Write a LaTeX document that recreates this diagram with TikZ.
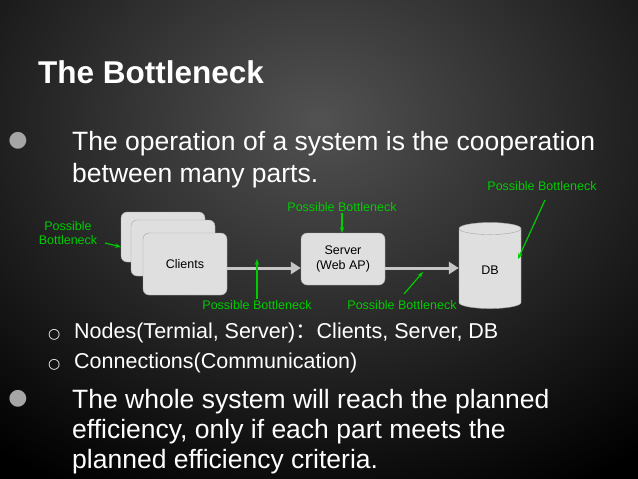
\documentclass[tikz,border=0pt]{standalone}
\usepackage{fontspec}
\setmainfont{Liberation Sans}
\newfontfamily\djv{DejaVu Sans}
\newfontfamily\cjk{Noto Sans CJK SC}
\usetikzlibrary{shapes.geometric,arrows.meta}
\begin{document}
\begin{tikzpicture}[x=1pt,y=-1pt,
  box/.style={draw=gray!70,fill=gray!25,rounded corners=6pt,minimum width=84pt,font=\fontsize{12.5}{15}\selectfont},
  gl/.style={text=green!80!black,font=\fontsize{12.5}{14}\selectfont,align=center,inner sep=1pt},
  ga/.style={draw=green!80!black,line width=1.2pt,-{Stealth[length=6pt]}},
  flow/.style={draw=gray!45,line width=3pt,-{Triangle[length=10pt,width=12pt]}},
  txt/.style={text=white,anchor=base west,inner sep=0pt,font=\fontsize{26.5}{30}\selectfont},
  sub/.style={text=white,anchor=base west,inner sep=0pt,font=\fontsize{21.5}{26}\selectfont},
  dot/.style={text=gray!70,anchor=center,inner sep=0pt,font=\djv\fontsize{22}{24}\selectfont}]
\useasboundingbox (0,0) rectangle (638,479);
\fill[black] (0,0) rectangle (638,479);
\shade[inner color=black!68,outer color=black,draw=none] (319,120) ellipse (520 and 420);
\node[text=white,anchor=base west,inner sep=0pt,font=\bfseries\fontsize{31.5}{34}\selectfont] (title) at (38,83) {The Bottleneck};
\node[dot] (b1) at (18,141) {●};
\node[txt] (t1) at (72,150) {The operation of a system is the cooperation};
\node[txt] (t2) at (72,182) {between many parts.};
\node[box,minimum height=50pt] (c3) at (163,237) {};
\node[box,minimum height=56pt] (c2) at (173,248) {};
\node[box,minimum height=62pt] (c1) at (185,264) {Clients};
\node[box,minimum height=52pt,align=center] (srv) at (343,259) {Server\\(Web AP)};
\node[cylinder,shape border rotate=90,draw=gray!70,fill=gray!25,minimum width=62pt,minimum height=86pt,aspect=0.5,font=\fontsize{12.5}{15}\selectfont] (db) at (490,270) {DB};
\draw[flow] (c1.east|-0,268) -- (srv.west|-0,268);
\draw[flow] (srv.east|-0,268) -- (db.west|-0,268);
\node[gl] (l1) at (542,186) {Possible Bottleneck};
\node[gl] (l2) at (342,207) {Possible Bottleneck};
\node[gl] (l3) at (257,305) {Possible Bottleneck};
\node[gl] (l4) at (402,305) {Possible Bottleneck};
\node[gl] (l5) at (68,233) {Possible\\Bottleneck};
\coordinate (e1) at (518,259);
\coordinate (e2) at (342,233);
\coordinate (e3) at (257,259);
\coordinate (e4) at (423,272);
\coordinate (e5) at (121,247);
\draw[ga] (545,200) -- (e1);
\draw[ga] (l2) -- (e2);
\draw[ga] (l3) -- (e3);
\draw[ga] (404,294) -- (e4);
\draw[ga] (105,243) -- (e5);
\node[sub,font=\djv\fontsize{14}{16}\selectfont] (s1) at (48,338) {○};
\node[sub] (s1t) at (74,338) {Nodes(Termial, Server){\cjk ：}Clients, Server, DB};
\node[sub,font=\djv\fontsize{14}{16}\selectfont] (s2) at (48,368) {○};
\node[sub] (s2t) at (74,368) {Connections(Communication)};
\node[dot] (b2) at (18,399) {●};
\node[txt] (u1) at (72,408) {The whole system will reach the planned};
\node[txt] (u2) at (72,438) {efficiency, only if each part meets the};
\node[txt] (u3) at (72,468) {planned efficiency criteria.};
\end{tikzpicture}
\end{document}
